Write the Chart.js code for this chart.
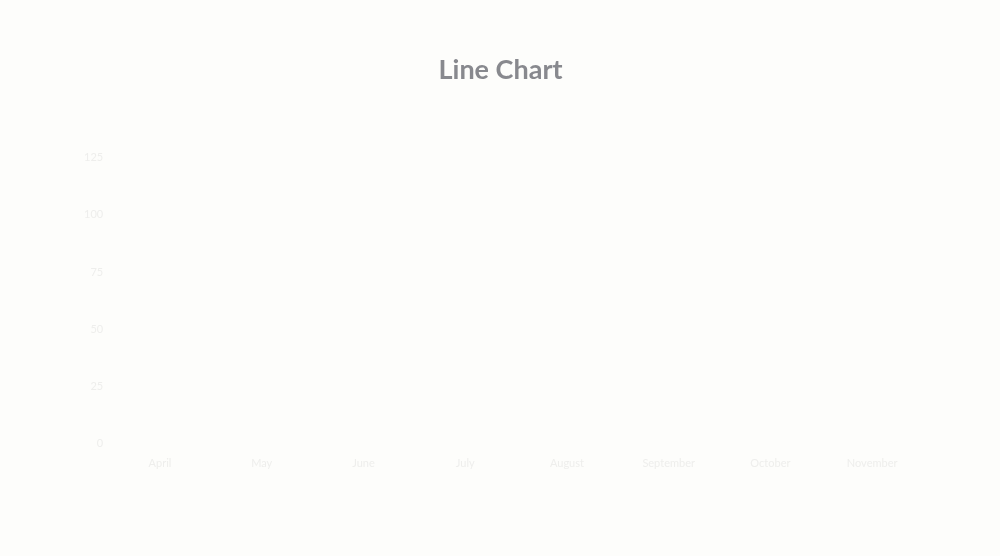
<!DOCTYPE html>
<html>
<head>
<meta charset="utf-8">
<title>Line Chart</title>
<script src="https://cdn.jsdelivr.net/npm/chart.js@4"></script>
<style>
  html, body { margin: 0; padding: 0; background: #fdfdfb; }
  #wrap { width: 1000px; height: 556px; }
</style>
</head>
<body>
<div id="wrap"><canvas id="lineChart"></canvas></div>
<script>
// Month labels along the x axis
const months = ['April', 'May', 'June', 'July', 'August', 'September', 'October', 'November'];
// The reference shows no visible line, so the series is left empty
const seriesValues = [];
// y axis range / step
const yMin = 0;
const yMax = 125;
const yStep = 25;

const faint = '#eeeeec';

document.addEventListener('DOMContentLoaded', () => {
    const ctx = document.getElementById('lineChart').getContext('2d');
    new Chart(ctx, {
        type: 'line',
        data: {
            labels: months,
            datasets: [{
                label: 'Series',
                data: seriesValues,
                borderColor: faint,
                backgroundColor: faint,
                pointRadius: 0
            }]
        },
        options: {
            responsive: true,
            maintainAspectRatio: false,
            animation: false,
            layout: { padding: { top: 0, left: 78, right: 77, bottom: 73 } },
            plugins: {
                legend: { display: false },
                tooltip: { enabled: false },
                title: {
                    display: true,
                    text: 'Line Chart',
                    color: '#88898e',
                    font: { family: 'Lato, sans-serif', size: 27, weight: 'bold' },
                    padding: { top: 54, bottom: 71 }
                }
            },
            scales: {
                x: {
                    offset: true,
                    border: { display: false },
                    grid: { display: false, drawTicks: false },
                    ticks: { color: faint, padding: 13, font: { family: 'Lato, sans-serif', size: 11 } }
                },
                y: {
                    min: yMin,
                    max: yMax,
                    border: { display: false },
                    grid: { display: false, drawTicks: false },
                    ticks: { stepSize: yStep, color: faint, padding: 6, font: { family: 'Lato, sans-serif', size: 11 } }
                }
            }
        }
    });
});
</script>
</body>
</html>
